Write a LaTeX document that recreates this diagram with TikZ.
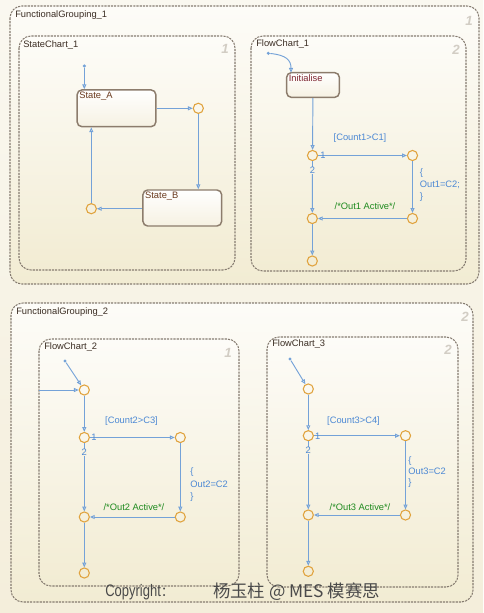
\documentclass[tikz,border=0pt]{standalone}
\usepackage{fontspec}
\usepackage{graphicx}
\setmainfont{Liberation Sans}
\newfontfamily\cjk{Noto Sans CJK SC}
\usetikzlibrary{arrows.meta}
\definecolor{pagetop}{HTML}{FAF8F0}
\definecolor{pagebot}{HTML}{F4EEDB}
\definecolor{grptop}{HTML}{FDFCF8}
\definecolor{grpbot}{HTML}{F2ECD3}
\definecolor{grpline}{HTML}{857B70}
\definecolor{namecol}{HTML}{3A2C22}
\definecolor{nocol}{HTML}{D2CDC4}
\definecolor{stline}{HTML}{8C7C6C}
\definecolor{stbot}{HTML}{F6F1E2}
\definecolor{stname}{HTML}{6A3A1E}
\definecolor{initname}{HTML}{7E2632}
\definecolor{junccol}{HTML}{E0A23C}
\definecolor{trcol}{HTML}{74A2D8}
\definecolor{condcol}{HTML}{4C88D4}
\definecolor{cmtcol}{HTML}{1E8A1E}
\definecolor{copycol}{HTML}{4A4A4A}
\tikzset{
  grp/.style={draw=grpline, dash pattern=on 1.6pt off 0.8pt, line width=0.8pt,
    rounded corners=9pt, top color=grptop, bottom color=grpbot},
  chartname/.style={anchor=west, inner sep=0pt, text=namecol,
    font=\fontsize{7}{8}\selectfont},
  chartno/.style={anchor=east, inner sep=0pt, text=nocol,
    font=\fontsize{10}{12}\selectfont\bfseries\itshape},
  stbox/.style={draw=stline, line width=1.1pt, rounded corners=3.5pt,
    top color=white, bottom color=stbot, inner sep=0pt},
  stlabel/.style={anchor=north west, inner sep=2pt, text=stname,
    font=\fontsize{7}{8}\selectfont},
  junc/.style={circle, draw=junccol, line width=0.8pt, minimum size=7.6pt,
    inner sep=0pt},
  tr/.style={draw=trcol, line width=0.7pt,
    -{Triangle[open, length=3.6pt, width=3pt]}},
  dflt/.style={circle, fill=trcol, inner sep=0pt, minimum size=2.6pt},
  cond/.style={inner sep=0.4pt, text=condcol, font=\fontsize{7}{8}\selectfont},
  cmt/.style={inner sep=0pt, text=cmtcol, font=\fontsize{7}{8}\selectfont},
  copytxt/.style={anchor=west, inner sep=0pt, text=copycol}
}
\begin{document}
\begin{tikzpicture}[x=0.75pt, y=-0.75pt]
                \useasboundingbox (0,0) rectangle (483,613);
                \shade[top color=pagetop, bottom color=pagebot] (0,0) rectangle (483,613);

                \path[grp] (10,6) rectangle (479,284);
                \node[chartname] (fg1) at (15,15) {FunctionalGrouping\_1};
                \node[chartno] (fg1no) at (473,21) {1};

                \path[grp] (19,36) rectangle (235,270);
                \node[chartname] (sc1) at (23,45) {StateChart\_1};
                \node[chartno] (sc1no) at (229,49) {1};

                \path[grp] (251,36) rectangle (466,271);
                \node[chartname] (fc1) at (256,44) {FlowChart\_1};
                \node[chartno] (fc1no) at (460,49.5) {2};

                \node[stbox, minimum width=59pt, minimum height=27.5pt,
                    label={[stlabel]north west:State\_A}] (sa) at (116.5,108.3) {};
                \node[stbox, minimum width=59pt, minimum height=27pt,
                    label={[stlabel]north west:State\_B}] (sb) at (182.3,208) {};
                \node[dflt] (d0) at (84.3,66) {};
                \node[junc] (c1) at (198.3,108.3) {};
                \node[junc] (c2) at (91.3,208.7) {};

                \draw[tr] (d0) -- (d0 |- sa.north);
                \draw[tr] (sa) -- (c1);
                \draw[tr] (c1) -- (c1 |- sb.north);
                \draw[tr] (sb.west |- c2) -- (c2);
                \draw[tr] (c2) -- (c2 |- sa.south);

                \node[stbox, minimum width=39.5pt, minimum height=18.5pt,
                    label={[stlabel, text=initname]north west:Initialise}] (init) at (313,85) {};
                \node[dflt] (d1) at (268.3,53.3) {};
                \coordinate (i1) at (291,72.7);
                \node[junc] (j11) at (312.5,155.5) {};
                \node[junc] (j12) at (412.5,155.5) {};
                \node[junc] (j13) at (412.5,218.5) {};
                \node[junc] (j14) at (312.3,218.5) {};
                \node[junc] (j15) at (312.3,261) {};

                \draw[tr] (d1) .. controls (286,55) and (291,60) .. (i1);
                \draw[tr] (init) -- (j11);
                \draw[tr] (j11) -- (j12);
                \draw[tr] (j12) -- (j13);
                \draw[tr] (j13) -- (j14);
                \draw[tr] (j11) -- (j14);
                \draw[tr] (j14) -- (j15);

                \node[cond] (g1) at (360,138) {[Count1>C1]};
                \node[cond] (n11) at (323,155.7) {1};
                \node[cond, fill=grptop!40!grpbot] (n12) at (312.5,170.7) {2};
                \node[cond, anchor=west] (a11) at (419,173) {\{};
                \node[cond, anchor=west] (a12) at (419,184.5) {Out1=C2;};
                \node[cond, anchor=west] (a13) at (419,197) {\}};
                \node[cmt] (m1) at (365,205.7) {/*Out1 Active*/};

                \path[grp] (11,303) rectangle (473,602);
                \node[chartname] (fg2) at (16,312) {FunctionalGrouping\_2};
                \node[chartno] (fg2no) at (469,317) {2};

                \path[grp] (39,339) rectangle (239,586);
                \node[chartname] (fc2) at (44,347) {FlowChart\_2};
                \node[chartno] (fc2no) at (232,352.5) {1};

                \node[dflt] (d2) at (65,361) {};
                \coordinate (in2) at (38.5,390);
                \node[junc] (j21) at (84.3,390) {};
                \node[junc] (j22) at (84.3,437.5) {};
                \node[junc] (j23) at (180.3,437.5) {};
                \node[junc] (j24) at (180.3,517) {};
                \node[junc] (j25) at (84.3,517) {};
                \node[junc] (j26) at (84.3,573) {};

                \draw[tr] (d2) -- (j21);
                \draw[tr] (in2) -- (j21);
                \draw[tr] (j21) -- (j22);
                \draw[tr] (j22) -- (j23);
                \draw[tr] (j23) -- (j24);
                \draw[tr] (j24) -- (j25);
                \draw[tr] (j22) -- (j25);
                \draw[tr] (j25) -- (j26);

                \node[cond] (g2) at (131.5,421) {[Count2>C3]};
                \node[cond] (n21) at (94,437.5) {1};
                \node[cond, fill=grptop!40!grpbot] (n22) at (84.3,452.7) {2};
                \node[cond, anchor=west] (a21) at (189.5,472) {\{};
                \node[cond, anchor=west] (a22) at (189.5,484) {Out2=C2};
                \node[cond, anchor=west] (a23) at (189.5,497) {\}};
                \node[cmt] (m2) at (134,506.7) {/*Out2 Active*/};

                \path[grp] (267,337) rectangle (458,587);
                \node[chartname] (fc3) at (272,344) {FlowChart\_3};
                \node[chartno] (fc3no) at (452,350) {2};

                \node[dflt] (d3) at (290,359) {};
                \node[junc] (j31) at (308.3,389) {};
                \node[junc] (j32) at (308.3,435.7) {};
                \node[junc] (j33) at (405.5,435.7) {};
                \node[junc] (j34) at (405.5,515) {};
                \node[junc] (j35) at (308.3,515) {};
                \node[junc] (j36) at (308.3,571.3) {};

                \draw[tr] (d3) -- (j31);
                \draw[tr] (j31) -- (j32);
                \draw[tr] (j32) -- (j33);
                \draw[tr] (j33) -- (j34);
                \draw[tr] (j34) -- (j35);
                \draw[tr] (j32) -- (j35);
                \draw[tr] (j35) -- (j36);

                \node[cond] (g3) at (353.5,421) {[Count3>C4]};
                \node[cond] (n31) at (317.7,436) {1};
                \node[cond, fill=grptop!40!grpbot] (n32) at (308.3,450.7) {2};
                \node[cond, anchor=west] (a31) at (407.5,460.7) {\{};
                \node[cond, anchor=west] (a32) at (407.5,471.7) {Out3=C2};
                \node[cond, anchor=west] (a33) at (407.5,483.5) {\}};
                \node[cmt] (m3) at (360,506.7) {/*Out3 Active*/};

                \node[copytxt] (cp1) at (105,592)
                    {\scalebox{0.78}[1]{\fontsize{12.5}{14}\selectfont Copyright}{\cjk\fontsize{10}{12}\selectfont ：}};
                \node[copytxt, font=\cjk\fontsize{13}{15}\selectfont] (cp2) at (213,592)
                    {杨玉柱 @ MES 模赛思};
\end{tikzpicture}
\end{document}
